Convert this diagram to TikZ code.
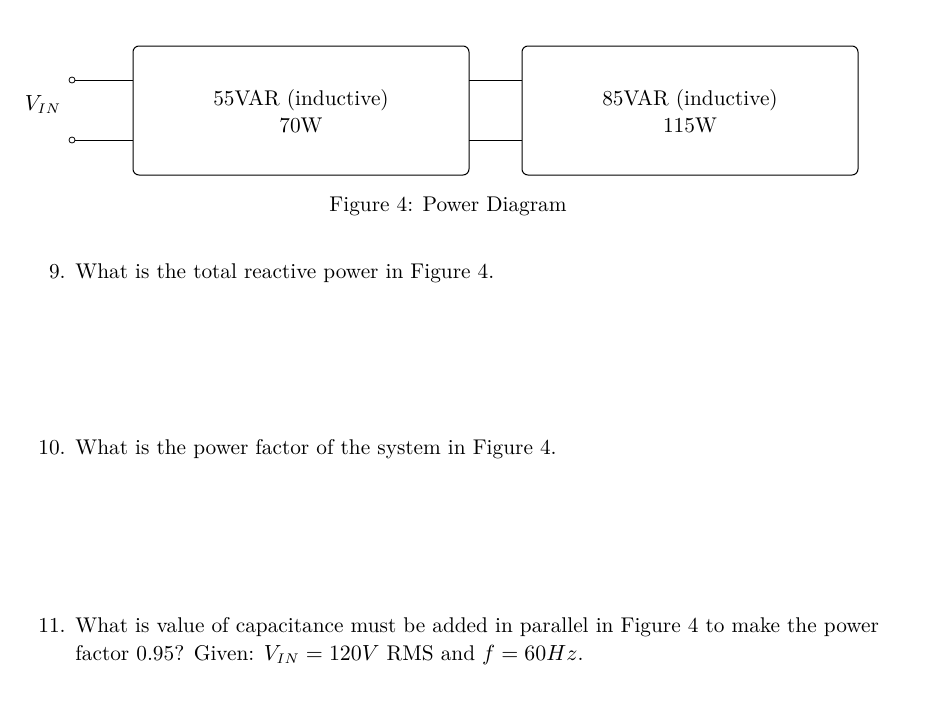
\documentclass[tikz,border=0pt]{standalone}
\begin{document}
\begin{tikzpicture}[x=0.5pt,y=-0.5pt,font=\fontsize{10.65}{13}\selectfont,
 box/.style={draw,rounded corners=3pt,line width=0.5pt},
 term/.style={draw,circle,inner sep=0pt,minimum size=3pt,line width=0.4pt},
 txt/.style={inner sep=0pt,anchor=base west},
 num/.style={inner sep=0pt,anchor=base east},
 ctr/.style={inner sep=0pt,anchor=base}]
\useasboundingbox (0,0) rectangle (927,707);
\draw[box] (133,46) rectangle (469,175);
\draw[box] (522,46) rectangle (858,175);
\node[term] (t1) at (72,80) {};
\node[term] (t2) at (72,140) {};
\coordinate (a1) at (133,80); \coordinate (a2) at (133,140);
\coordinate (b1) at (469,80); \coordinate (b2) at (469,140);
\coordinate (c1) at (522,80); \coordinate (c2) at (522,140);
\draw[line width=0.4pt] (t1) -- (a1) (t2) -- (a2) (b1) -- (c1) (b2) -- (c2);
\node[ctr] (vin) at (43,110) {$V_{IN}$};
\node[ctr] (l1a) at (301,105) {55VAR (inductive)};
\node[ctr] (l1b) at (301,132) {70W};
\node[ctr] (l2a) at (690,105) {85VAR (inductive)};
\node[ctr] (l2b) at (690,132) {115W};
\node[ctr] (cap) at (448,211) {Figure 4: Power Diagram};
\node[num] (n9) at (66,278) {9.};
\node[txt] (q9) at (75,278) {What is the total reactive power in Figure 4.};
\node[num] (n10) at (66,454) {10.};
\node[txt] (q10) at (75,454) {What is the power factor of the system in Figure 4.};
\node[num] (n11) at (66,632) {11.};
\node[txt] (q11) at (75,632) {What is value of capacitance must be added in parallel in Figure 4 to make the power};
\node[txt] (q11b) at (75,660) {factor 0.95? Given: $V_{IN}=120V$ RMS and $f=60Hz$.};
\end{tikzpicture}
\end{document}
